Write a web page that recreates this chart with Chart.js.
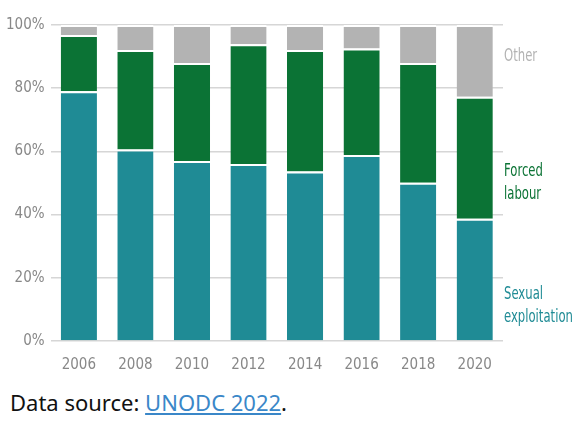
<!DOCTYPE html>
<html>
<head>
<meta charset="utf-8">
<script src="https://cdn.jsdelivr.net/npm/chart.js@4"></script>
<style>
  html, body { margin: 0; padding: 0; background: #fff; }
  #wrap { width: 582px; height: 381px; position: relative; }
  .source { font-family: 'Noto Sans', sans-serif; font-size: 22px; color: #111; margin: 6px 0 0 10px; }
  .source a { color: #3a87c8; text-decoration: underline; }
</style>
</head>
<body>
<div id="wrap"><canvas id="chart"></canvas></div>
<div class="source">Data source: <a href="#">UNODC 2022</a>.</div>
<script>
// shares of detected victims by form of exploitation (%)
const years = ['2006', '2008', '2010', '2012', '2014', '2016', '2018', '2020'];
const sexual = [79, 60.6, 57, 56, 53.6, 58.9, 50.1, 38.7];
const forced = [17.8, 31.5, 31, 37.9, 38.5, 33.7, 37.9, 38.6];
const other = [3.2, 7.9, 12, 6.1, 7.9, 7.4, 12, 22.7];
const yTicks = [0, 20, 40, 60, 80, 100];

const seriesNames = ['Sexual\nexploitation', 'Forced\nlabour', 'Other'];
const colors = ['#1f8b95', '#0b7335', '#b3b3b3'];
const labelAt = [11, 50, 90]; // where the side labels sit, in % on the y axis

const condensed = "'DejaVu Sans Condensed', 'Liberation Sans Narrow', sans-serif";

// side labels, squeezed a bit to look like the condensed original
const sideLabels = {
  id: 'sideLabels',
  afterDraw(chart) {
    const ctx = chart.ctx;
    const y = chart.scales.y;
    const x0 = chart.chartArea.right + 1;
    const sx = 0.72;
    ctx.save();
    ctx.font = '18px ' + condensed;
    ctx.textBaseline = 'middle';
    ctx.textAlign = 'left';
    ctx.scale(sx, 1);
    seriesNames.forEach((name, i) => {
      const lines = name.split('\n');
      const mid = y.getPixelForValue(labelAt[i]);
      ctx.fillStyle = colors[i];
      lines.forEach((ln, j) => {
        ctx.fillText(ln, x0 / sx, mid + (j - (lines.length - 1) / 2) * 23);
      });
    });
    ctx.restore();
  }
};

const mk = (label, data, color) => ({
  label, data,
  backgroundColor: color,
  borderColor: '#fff',
  borderWidth: { top: 2, left: 0, right: 0, bottom: 0 },
  borderSkipped: false,
  categoryPercentage: 1,
  barPercentage: 0.64
});

new Chart(document.getElementById('chart'), {
  type: 'bar',
  data: {
    labels: years,
    datasets: [
      mk('Sexual exploitation', sexual, colors[0]),
      mk('Forced labour', forced, colors[1]),
      mk('Other', other, colors[2])
    ]
  },
  options: {
    responsive: true,
    maintainAspectRatio: false,
    animation: false,
    layout: { padding: { top: 25, right: 79, left: 0, bottom: 0 } },
    plugins: { legend: { display: false }, tooltip: { enabled: false } },
    scales: {
      x: {
        stacked: true,
        grid: { display: false },
        border: { display: false },
        ticks: { color: '#888', font: { family: condensed, size: 15 }, padding: 7 }
      },
      y: {
        stacked: true,
        min: 0, max: 100,
        afterBuildTicks(axis) { axis.ticks = yTicks.map(v => ({ value: v })); },
        grid: { color: '#d6d6d6', lineWidth: 1.5, drawTicks: false },
        border: { display: false },
        ticks: {
          color: '#888', padding: 6,
          font: { family: condensed, size: 15 },
          callback: v => v + '%'
        }
      }
    }
  },
  plugins: [sideLabels]
});
</script>
</body>
</html>
